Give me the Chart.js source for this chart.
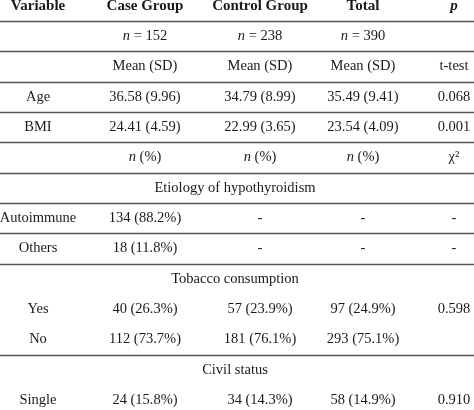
<!DOCTYPE html>
<html>
<head>
<meta charset="utf-8">
<script src="https://cdn.jsdelivr.net/npm/chart.js@4"></script>
<style>
  html, body { margin: 0; padding: 0; background: #fff; }
  #wrap { width: 474px; height: 410px; }
</style>
</head>
<body>
<div id="wrap"><canvas id="tableChart"></canvas></div>
<script>
// table content
const columns = ['Variable', 'Case Group', 'Control Group', 'Total', 'p'];
const groupSizes = ['n = 152', 'n = 238', 'n = 390'];
const statRow = ['Mean (SD)', 'Mean (SD)', 'Mean (SD)', 't-test'];
const age = ['Age', '36.58 (9.96)', '34.79 (8.99)', '35.49 (9.41)', '0.068'];
const bmi = ['BMI', '24.41 (4.59)', '22.99 (3.65)', '23.54 (4.09)', '0.001'];
const countRow = ['n (%)', 'n (%)', 'n (%)', 'χ²'];
const autoimmune = ['Autoimmune', '134 (88.2%)', '-', '-', '-'];
const others = ['Others', '18 (11.8%)', '-', '-', '-'];
const smokeYes = ['Yes', '40 (26.3%)', '57 (23.9%)', '97 (24.9%)', '0.598'];
const smokeNo = ['No', '112 (73.7%)', '181 (76.1%)', '293 (75.1%)', ''];
const single = ['Single', '24 (15.8%)', '34 (14.3%)', '58 (14.9%)', '0.910'];
const sections = ['Etiology of hypothyroidism', 'Tobacco consumption', 'Civil status'];

// rows of the table, in order
const rows = [
    { kind: 'header', cells: columns },
    { kind: 'italic', cells: [''].concat(groupSizes, ['']) },
    { kind: 'plain', cells: [''].concat(statRow) },
    { kind: 'plain', cells: age },
    { kind: 'plain', cells: bmi },
    { kind: 'italic', cells: [''].concat(countRow) },
    { kind: 'section', text: sections[0] },
    { kind: 'plain', cells: autoimmune },
    { kind: 'plain', cells: others },
    { kind: 'section', text: sections[1] },
    { kind: 'plain', cells: smokeYes },
    { kind: 'plain', cells: smokeNo },
    { kind: 'section', text: sections[2] },
    { kind: 'plain', cells: single }
];
const ruleAfter = [0, 1, 2, 3, 4, 5, 6, 7, 8, 11];
const colCenters = [38, 145, 260, 363, 454];
const rowLabels = rows.map((r, i) => 'r' + i);

const FONT = '"Liberation Serif", "DejaVu Serif", serif';

const tablePlugin = {
    id: 'tableText',
    afterDraw(chart) {
        const c = chart.ctx;
        const xs = chart.scales.x, ys = chart.scales.y;
        const W = chart.width;
        c.save();
        c.textAlign = 'center';
        c.textBaseline = 'middle';
        c.fillStyle = '#1a1a1a';

        // rules
        c.strokeStyle = '#555';
        c.lineWidth = 1.5;
        ruleAfter.forEach(i => {
            const y = Math.round((ys.getPixelForValue(i) + ys.getPixelForValue(i + 1)) / 2) + 0.5;
            c.beginPath();
            c.moveTo(0, y);
            c.lineTo(W, y);
            c.stroke();
        });

        rows.forEach((row, i) => {
            const y = ys.getPixelForValue(i);
            if (row.kind === 'section') {
                c.font = '14.5px ' + FONT;
                c.fillText(row.text, xs.getPixelForValue(colCenters[2]) - 25, y);
                return;
            }
            row.cells.forEach((txt, j) => {
                if (!txt) return;
                const x = xs.getPixelForValue(colCenters[j]);
                if (row.kind === 'header') {
                    c.font = (j === 4 ? 'italic bold ' : 'bold ') + '15px ' + FONT;
                    c.fillText(txt, x, y);
                } else if (row.kind === 'italic' && txt.startsWith('n ')) {
                    // italic n, upright rest
                    const rest = txt.slice(1);
                    c.font = 'italic 14.5px ' + FONT;
                    const w1 = c.measureText('n').width;
                    c.font = '14.5px ' + FONT;
                    const w2 = c.measureText(rest).width;
                    const x0 = x - (w1 + w2) / 2;
                    c.textAlign = 'left';
                    c.font = 'italic 14.5px ' + FONT;
                    c.fillText('n', x0, y);
                    c.font = '14.5px ' + FONT;
                    c.fillText(rest, x0 + w1, y);
                    c.textAlign = 'center';
                } else {
                    c.font = '14.5px ' + FONT;
                    c.fillText(txt, x, y);
                }
            });
        });
        c.restore();
    }
};

document.addEventListener('DOMContentLoaded', function() {
    const ctx = document.getElementById('tableChart').getContext('2d');
    new Chart(ctx, {
        type: 'scatter',
        data: {
            datasets: [{
                data: [],
                pointRadius: 0
            }]
        },
        options: {
            responsive: true,
            maintainAspectRatio: false,
            animation: false,
            layout: { padding: { top: 6, bottom: 10, left: 0, right: 0 } },
            plugins: {
                legend: { display: false },
                tooltip: { enabled: false }
            },
            scales: {
                x: { type: 'linear', min: 0, max: 474, display: false },
                y: { type: 'category', labels: rowLabels, offset: false, display: false }
            }
        },
        plugins: [tablePlugin]
    });
});
</script>
</body>
</html>
